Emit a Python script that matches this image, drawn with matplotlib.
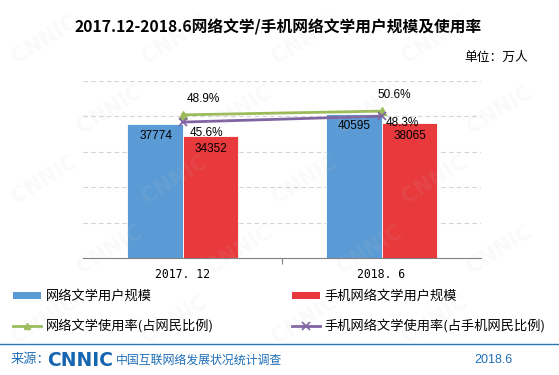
import matplotlib
matplotlib.use("Agg")
import matplotlib.pyplot as plt
import numpy as np
from matplotlib.lines import Line2D
from matplotlib.patches import Patch

plt.rcParams['font.family'] = ['Noto Sans CJK SC', 'DejaVu Sans']

# ---- data ----
categories = ["2017.12", "2018.6"]
tick_labels = ["2017. 12", "2018. 6"]
lit_users = [37774, 40595]
mobile_lit_users = [34352, 38065]
lit_rate = [48.9, 50.6]
mobile_lit_rate = [45.6, 48.3]
grid_values = [10000, 20000, 30000, 40000, 50000]

series_names = ["网络文学用户规模", "手机网络文学用户规模",
                "网络文学使用率(占网民比例)", "手机网络文学使用率(占手机网民比例)"]

title = "2017.12-2018.6网络文学/手机网络文学用户规模及使用率"
unit = "单位：万人"

BLUE = "#5B9BD5"
RED = "#E8393D"
GREEN = "#9BBB59"
PURPLE = "#8064A2"
FOOT = "#1F6FB8"

W, H = 559, 375
fig = plt.figure(figsize=(W / 100, H / 100), dpi=100)
fig.patch.set_facecolor("white")

def fx(px):
    return px / W

def fy(py):
    return 1 - py / H

ax = fig.add_axes([fx(83), fy(258), fx(481) - fx(83), fy(81) - fy(258)])
ax.set_facecolor("none")
x = np.arange(len(categories))
bw = 0.28
for g in grid_values:
    ax.axhline(g, color="#d4d4d4", lw=0.8, linestyle=(0, (4, 3)), zorder=0)
ax.bar(x - bw / 2, lit_users, bw, color=BLUE, edgecolor="white", linewidth=0.6, zorder=2)
ax.bar(x + bw / 2, mobile_lit_users, bw, color=RED, edgecolor="white", linewidth=0.6, zorder=2)
ax.set_xlim(-0.5, len(categories) - 0.5)
ax.set_ylim(0, 50000)
ax.set_yticks([])
ax.set_xticks([0.5], minor=False)
ax.set_xticks(x, minor=True)
ax.set_xticklabels([""])
ax.set_xticklabels(tick_labels, minor=True, fontfamily="DejaVu Sans Mono", fontsize=8.3)
ax.tick_params(axis="x", which="major", length=4, color="#808080", direction="out")
ax.tick_params(axis="x", which="minor", length=0, pad=7)
for s in ["top", "right", "left"]:
    ax.spines[s].set_visible(False)
ax.spines["bottom"].set_color("#808080")

numfont = dict(fontfamily="Liberation Sans", fontsize=8.5, color="black")
for xi, v in zip(x, lit_users):
    ax.annotate(f"{v}", (xi - bw / 2, v), xytext=(1, -12), textcoords="offset pixels",
                ha="center", va="center", zorder=5, **numfont)
for xi, v in zip(x, mobile_lit_users):
    ax.annotate(f"{v}", (xi + bw / 2, v), xytext=(1, -13), textcoords="offset pixels",
                ha="center", va="center", zorder=5, **numfont)

ax2 = ax.twinx()
ax2.set_ylim(-16.2, 64.3)
ax2.axis("off")
ax2.plot(x, lit_rate, color=GREEN, lw=2, marker="^", markersize=6, zorder=4, clip_on=False)
ax2.plot(x, mobile_lit_rate, color=PURPLE, lw=2, marker="x", markersize=6, mew=1.2, zorder=4, clip_on=False)
for xi, v, off in zip(x, lit_rate, [(21, 16), (13, 16)]):
    ax2.annotate(f"{v}%", (xi, v), xytext=off, textcoords="offset pixels",
                 ha="center", va="center", **numfont)
for xi, v, off in zip(x, mobile_lit_rate, [(24, -11), (21, -7)]):
    ax2.annotate(f"{v}%", (xi, v), xytext=off, textcoords="offset pixels",
                 ha="center", va="center", **numfont)

# title and unit
fig.text(fx(278), fy(27), title, ha="center", va="center", fontsize=11.3, fontweight="bold")
fig.text(fx(528), fy(57), unit, ha="right", va="center", fontsize=9.2)

# legends
h_blue = Patch(facecolor=BLUE)
h_red = Patch(facecolor=RED)
h_green = Line2D([], [], color=GREEN, lw=2, marker="^", markersize=5)
h_purple = Line2D([], [], color=PURPLE, lw=2, marker="x", markersize=6, mew=1.2)
common = dict(frameon=False, fontsize=9.5, handlelength=2.1, handleheight=0.45,
              handletextpad=0.38, labelspacing=1.2, borderpad=0, borderaxespad=0,
              loc="center left")
leg1 = fig.legend([h_blue, h_green], [series_names[0], series_names[2]],
                  bbox_to_anchor=(fx(13), fy(311.5)), **common)
leg2 = fig.legend([h_red, h_purple], [series_names[1], series_names[3]],
                  bbox_to_anchor=(fx(292), fy(311.5)), **common)

# footer
fig.add_artist(Line2D([0, 1], [fy(344), fy(344)], color="#2E75B6", lw=1))
fig.text(fx(11), fy(360), "来源：", ha="left", va="center", fontsize=9.5, color=FOOT)
fig.text(fx(47), fy(360), "CNNIC", ha="left", va="center", fontsize=13.5, fontweight="bold",
         color="#1565B0", fontfamily="DejaVu Sans")
fig.text(fx(116), fy(360), "中国互联网络发展状况统计调查", ha="left", va="center",
         fontsize=8.6, color=FOOT)
fig.text(fx(513), fy(360), "2018.6", ha="right", va="center", fontsize=9,
         color=FOOT, fontfamily="Liberation Sans")

# watermark (kept inside the figure)
for r, yy in enumerate(range(40, 340, 70)):
    for xx in range(45, 440, 130):
        fig.text(fx(xx + (r % 2) * 65), fy(yy), "CNNIC", ha="center", va="center",
                 fontsize=15, fontweight="bold", rotation=32, color="#c8c8c8",
                 alpha=0.09, fontfamily="DejaVu Sans", zorder=10)

fig.savefig("out.png", dpi=100, facecolor="white")
